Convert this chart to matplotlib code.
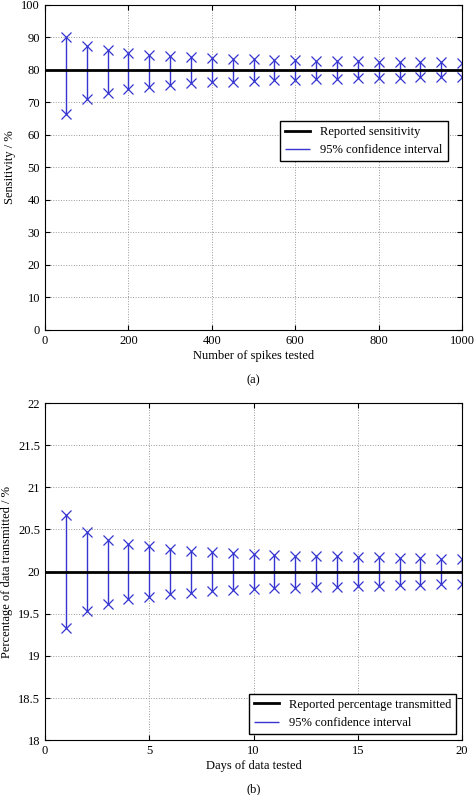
import matplotlib
matplotlib.use("Agg")
import matplotlib.pyplot as plt
import numpy as np

plt.rcParams['font.family'] = ['Liberation Serif', 'DejaVu Serif']
plt.rcParams['font.size'] = 9

# top panel: spikes tested vs sensitivity CI
spikes = list(range(50, 1001, 50))
sens_hi = [90.0, 87.2, 86.0, 85.2, 84.6, 84.2, 83.9, 83.6, 83.4, 83.2,
           83.0, 82.9, 82.8, 82.7, 82.6, 82.5, 82.4, 82.4, 82.3, 82.2]
sens_lo = [66.3, 71.0, 73.0, 74.0, 74.8, 75.3, 75.8, 76.1, 76.4, 76.6,
           76.8, 77.0, 77.1, 77.3, 77.4, 77.5, 77.6, 77.7, 77.7, 77.8]
sens_ref = 80

# bottom panel: days tested vs percentage transmitted CI
days = list(range(1, 21))
pct_hi = [20.67, 20.47, 20.38, 20.33, 20.30, 20.27, 20.25, 20.23, 20.22, 20.21,
          20.20, 20.19, 20.18, 20.18, 20.17, 20.17, 20.16, 20.16, 20.15, 20.15]
pct_lo = [2 * 20 - v for v in pct_hi]
pct_ref = 20

blue = '#3535d0'
fig = plt.figure(figsize=(4.74, 7.95), dpi=100)

ax1 = fig.add_axes([0.095, 0.585, 0.88, 0.409])
ax1.plot([0, 1000], [sens_ref, sens_ref], color='black', lw=2, label='Reported sensitivity', zorder=3)
ax1.vlines(spikes, sens_lo, sens_hi, color=blue, lw=1.0, label='95% confidence interval')
ax1.plot(spikes, sens_hi, 'x', color=blue, ms=7, mew=0.9)
ax1.plot(spikes, sens_lo, 'x', color=blue, ms=7, mew=0.9)
ax1.set_xlim(0, 1000)
ax1.set_ylim(0, 100)
ax1.set_yticks(range(0, 101, 10))
ax1.set_xticks(range(0, 1001, 200))
ax1.grid(True, ls=':', color='#999999', lw=0.7)
ax1.set_xlabel('Number of spikes tested', labelpad=2)
ax1.set_ylabel('Sensitivity / %')
ax1.legend(loc='center right', bbox_to_anchor=(0.98, 0.58), fancybox=False, edgecolor='black', framealpha=1)
ax1.tick_params(direction='in', top=True, right=True)
fig.text(0.535, 0.518, '(a)', ha='center', fontsize=9)

ax2 = fig.add_axes([0.095, 0.069, 0.88, 0.424])
ax2.plot([0, 20], [pct_ref, pct_ref], color='black', lw=2, label='Reported percentage transmitted', zorder=3)
ax2.vlines(days, pct_lo, pct_hi, color=blue, lw=1.0, label='95% confidence interval')
ax2.plot(days, pct_hi, 'x', color=blue, ms=7, mew=0.9)
ax2.plot(days, pct_lo, 'x', color=blue, ms=7, mew=0.9)
ax2.set_xlim(0, 20)
ax2.set_ylim(18, 22)
ax2.set_yticks(np.arange(18, 22.01, 0.5))
ax2.set_yticklabels(['18', '18.5', '19', '19.5', '20', '20.5', '21', '21.5', '22'])
ax2.set_xticks(range(0, 21, 5))
ax2.grid(True, ls=':', color='#999999', lw=0.7)
ax2.set_xlabel('Days of data tested', labelpad=2)
ax2.set_ylabel('Percentage of data transmitted / %')
ax2.legend(loc='lower right', fancybox=False, edgecolor='black', framealpha=1)
ax2.tick_params(direction='in', top=True, right=True)
fig.text(0.535, 0.003, '(b)', ha='center', fontsize=9)

fig.savefig('out.png')
